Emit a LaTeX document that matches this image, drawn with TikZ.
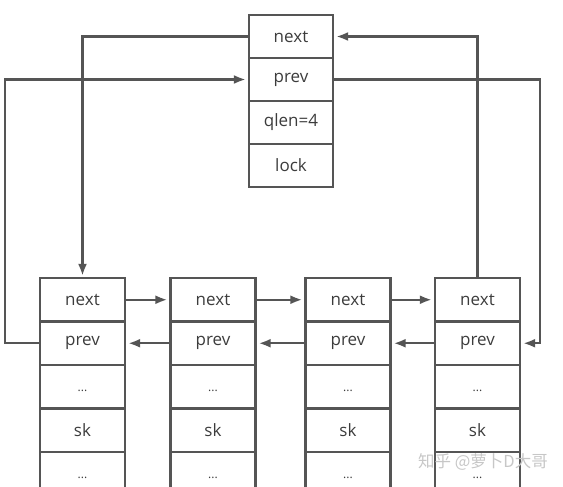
\documentclass[tikz,border=0pt]{standalone}
\usepackage{fontspec}
\setmainfont{Open Sans}
\newfontfamily\cjk{Noto Sans CJK SC}
\usetikzlibrary{arrows.meta}
\definecolor{ln}{HTML}{555555}
\definecolor{tx}{HTML}{3C3C3C}
\tikzset{
  cell/.style={draw=ln, line width=2.3pt, minimum width=85pt, minimum height=43.5pt, inner sep=0pt, text=tx, font=\fontsize{17}{20}\selectfont},
  hcell/.style={cell, minimum width=84pt, minimum height=43pt},
  dottext/.style={font=\fontsize{12}{14}\selectfont, text=tx},
  link/.style={draw=ln, line width=2.3pt, -{Latex[length=12pt,width=9pt]}, shorten >=2pt}
}
\begin{document}
\begin{tikzpicture}[x=1pt,y=-1pt]
\useasboundingbox (0,0) rectangle (563,487);
\begin{scope}
\clip (0,0) rectangle (563,487);
% head
\node[hcell] (h1) at (291,36.5) {next};
\node[hcell] (h2) at (291,79.5) {prev};
\node[hcell] (h3) at (291,122.5) {qlen=4};
\node[hcell] (h4) at (291,165.5) {lock};
% list nodes
\foreach \n/\x in {a/82.5,b/213,c/348,d/477.5}{
  \node[cell] (\n1) at (\x,299.75) {next};
  \node[cell] (\n2) at (\x,343.25) {prev};
  \node[cell] (\n3) at (\x,386.75) {};
  \node[cell] (\n4) at (\x,430.25) {sk};
  \node[cell] (\n5) at (\x,473.75) {};
  \node[dottext] (\n3t) at (\x,390.5) {...};
  \node[dottext] (\n5t) at (\x,477.5) {...};
}
\end{scope}
% next chain
\draw[link] (a1.east) -- (b1.west);
\draw[link] (b1.east) -- (c1.west);
\draw[link] (c1.east) -- (d1.west);
% prev chain
\draw[link] (d2.west) -- (c2.east);
\draw[link] (c2.west) -- (b2.east);
\draw[link] (b2.west) -- (a2.east);
% head connections
\draw[link, shorten >=1pt] (h1.west) -| (a1.north);
\coordinate (lc) at (5,343.25);
\draw[link] (a2.west) -- (lc) |- (h2.west);
\draw[link] (d1.north) |- (h1.east);
\coordinate (rc) at (540,79.5);
\draw[link] (h2.east) -- (rc) |- (d2.east);
% watermark
\node[text=black!22, font=\cjk\fontsize{16.5}{20}\selectfont] (wm) at (483,462) {知乎 @萝卜D大哥};
\end{tikzpicture}
\end{document}
